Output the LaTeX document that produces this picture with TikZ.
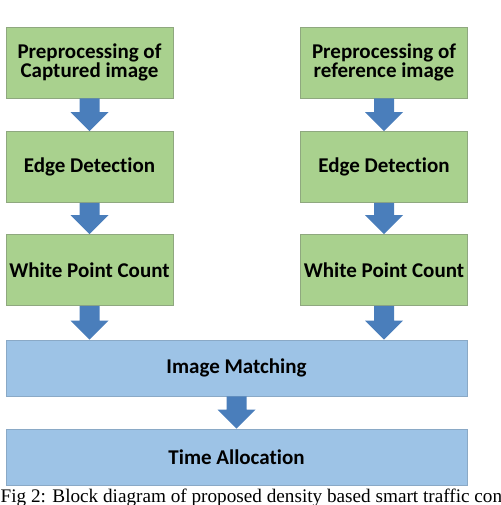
\documentclass[tikz,border=0pt]{standalone}
\usepackage{fontspec}
\setmainfont{Liberation Serif}
\newfontfamily\boxfont[Ligatures={NoCommon}]{Carlito}
\usetikzlibrary{calc}
\definecolor{gfill}{HTML}{A9D18E}
\definecolor{gline}{HTML}{8FA87F}
\definecolor{bfill}{HTML}{9DC3E6}
\definecolor{bline}{HTML}{8AA9C6}
\definecolor{arrcol}{HTML}{4A7EBB}
\tikzset{
  box/.style={inner sep=0pt, line width=0.8pt, align=center,
    font=\boxfont\bfseries\fontsize{21}{17.5}\selectfont, text=black},
  gbox/.style={box, fill=gfill, draw=gline, minimum width=167pt, minimum height=71pt},
  bbox/.style={box, fill=bfill, draw=bline, minimum width=461pt, minimum height=56pt},
  caption/.style={inner sep=0pt, anchor=base west, font=\fontsize{19.2}{22}\selectfont}
}
\newcommand\blockarrow[2]{%
  \fill[arrcol] let \p1=(#1.south), \p2=(#1.south |- #2.north) in
    (\x1-10pt,\y1) -- (\x1+10pt,\y1) -- (\x1+10pt,\y2+19pt) -- (\x1+19pt,\y2+19pt)
    -- (\x1,\y2) -- (\x1-19pt,\y2+19pt) -- (\x1-10pt,\y2+19pt) -- cycle;}
\begin{document}
\begin{tikzpicture}[x=1pt,y=-1pt]
\useasboundingbox (0,0) rectangle (500,505);
\clip (0,0) rectangle (500,505);
\node[gbox] (p1) at (89.5,62.5) {Preprocessing of\\Captured image};
\node[gbox] (e1) at (89.5,167) {Edge Detection};
\node[gbox] (w1) at (89.5,270) {White Point Count};
\node[gbox] (p2) at (384,62.5) {Preprocessing of\\reference image};
\node[gbox] (e2) at (384,167) {Edge Detection};
\node[gbox] (w2) at (384,270) {White Point Count};
\node[bbox] (im) at (236.5,368) {Image Matching};
\node[bbox] (ta) at (236.5,457) {Time Allocation};
\blockarrow{p1}{e1}
\blockarrow{e1}{w1}
\blockarrow{p2}{e2}
\blockarrow{e2}{w2}
\blockarrow{w1}{im}
\blockarrow{w2}{im}
\blockarrow{im}{ta}
\node[caption] (cap) at (0.5,502) {Fig 2: Block diagram of proposed density based smart traffic con};
\end{tikzpicture}
\end{document}
